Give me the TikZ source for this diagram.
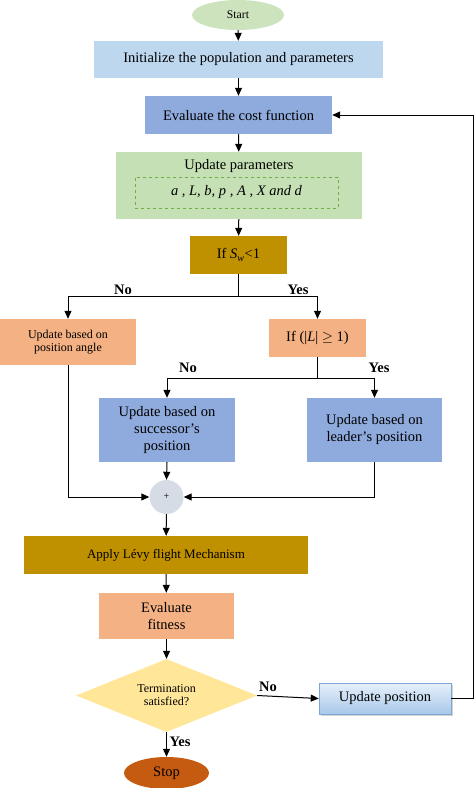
\documentclass[tikz,border=0pt]{standalone}
\usepackage{fontspec}
\setmainfont{Liberation Serif}
\usetikzlibrary{arrows.meta,shapes.geometric,shadows}
\definecolor{cStart}{HTML}{CDE3BE}
\definecolor{cInit}{HTML}{BDD7EE}
\definecolor{cBlue}{HTML}{8FAADC}
\definecolor{cGreen}{HTML}{C5E0B4}
\definecolor{cDash}{HTML}{70AD47}
\definecolor{cGold}{HTML}{BF9000}
\definecolor{cSalmon}{HTML}{F4B183}
\definecolor{cPlus}{HTML}{D6DCE5}
\definecolor{cDiam}{HTML}{FFE699}
\definecolor{cStop}{HTML}{C55A11}
\definecolor{cUpTop}{HTML}{E6F0FA}
\definecolor{cUpBot}{HTML}{A8C8EA}
\definecolor{cUpLine}{HTML}{7FA6D0}
\begin{document}
\begin{tikzpicture}[x=1pt,y=-1pt,
  box/.style={rectangle,inner sep=0pt,align=center,font=\fontsize{14.5}{17}\selectfont},
  conn/.style={line width=1pt,draw=black},
  arr/.style={conn,-{Triangle[length=8pt,width=7pt]}},
  lbl/.style={font=\fontsize{14.5}{17}\selectfont\bfseries,inner sep=0pt}]
\useasboundingbox (0,0) rectangle (474,788);
\node[ellipse,fill=cStart,minimum width=92pt,minimum height=30pt,inner sep=0pt,font=\fontsize{11.7}{13}\selectfont] (start) at (238,15) {Start};
\node[box,fill=cInit,minimum width=289pt,minimum height=37pt] (init) at (238.5,59.5) {Initialize the population and parameters};
\node[box,fill=cBlue,minimum width=187pt,minimum height=38pt] (eval) at (238.5,115) {Evaluate the cost function};
\node[box,fill=cGreen,minimum width=246pt,minimum height=67pt] (params) at (239,185.5) {};
\node[box] (ptitle) at (239,166) {Update parameters};
\node[box,draw=cDash,dashed,line width=0.8pt,minimum width=203pt,minimum height=31pt] (plist) at (236.5,192.5) {\textit{a , L, b, p , A , X and d}};
\node[box,fill=cGold,minimum width=97pt,minimum height=38pt] (sw) at (238.5,255) {If \textit{S}\textsubscript{\textit{w}}<1};
\node[box,fill=cSalmon,minimum width=136pt,minimum height=46pt,font=\fontsize{12}{13}\selectfont] (pa) at (68,342) {Update based on\\position angle};
\node[box,fill=cSalmon,minimum width=97pt,minimum height=38pt] (ifl) at (317.5,338) {If (|\textit{L}| $\geq$ 1)};
\node[box,fill=cBlue,minimum width=136pt,minimum height=64pt] (succ) at (167,430) {Update based on\\successor’s\\position};
\node[box,fill=cBlue,minimum width=135pt,minimum height=64pt] (lead) at (374.5,430) {Update based on\\leader’s position};
\node[circle,fill=cPlus,minimum size=34pt,inner sep=0pt,font=\fontsize{10}{12}\selectfont] (plus) at (166.5,497) {+};
\node[box,fill=cGold,minimum width=284pt,minimum height=38pt,font=\fontsize{13}{15}\selectfont] (levy) at (166,555) {Apply Lévy flight Mechanism};
\node[box,fill=cSalmon,minimum width=135pt,minimum height=46pt,font=\fontsize{14.5}{16.5}\selectfont] (fit) at (166.5,616) {Evaluate\\fitness};
\node[diamond,fill=cDiam,minimum width=181pt,minimum height=73pt,inner sep=0pt,aspect=2.48,align=center,font=\fontsize{12}{13}\selectfont] (term) at (166.5,695.5) {Termination\\satisfied?};
\node[box,top color=cUpTop,bottom color=cUpBot,draw=cUpLine,line width=0.6pt,minimum width=132pt,minimum height=31pt,drop shadow={opacity=0.35,shadow xshift=1.5pt,shadow yshift=-1.5pt}] (upos) at (385,698.5) {Update position};
\node[ellipse,fill=cStop,minimum width=85pt,minimum height=32pt,inner sep=0pt,font=\fontsize{14.5}{16}\selectfont] (stop) at (166.5,773) {Stop};
% connectors
\draw[arr] (start) -- (init);
\draw[arr] (init) -- (eval);
\draw[arr] (eval) -- (params);
\draw[arr] (params) -- (sw);
\coordinate (j1) at (238.5,296);
\draw[conn] (sw.south) -- (j1);
\draw[arr] (j1) -| (pa.north);
\draw[arr] (j1) -| (ifl.north);
\coordinate (j2) at (317.5,378);
\draw[conn] (ifl.south) -- (j2);
\draw[arr] (j2) -| (succ.north);
\draw[arr] (j2) -| (lead.north);
\draw[arr] (succ.south) -- (plus.north);
\draw[arr] (pa.south) |- (plus.west);
\draw[arr] (lead.south) |- (plus.east);
\draw[arr] (plus) -- (levy);
\draw[arr] (levy) -- (fit);
\draw[arr] (fit) -- (term);
\draw[arr] (term.east) -- (upos.west);
\draw[arr] (term.south) -- (stop.north);
\coordinate (fb) at (473,698.5);
\draw[arr] (upos.east) -- (fb) |- (eval.east);
% labels
\node[lbl] (l1) at (123,290) {No};
\node[lbl] (l2) at (298,290) {Yes};
\node[lbl] (l3) at (188,368) {No};
\node[lbl] (l4) at (379,368) {Yes};
\node[lbl] (l5) at (268,687) {No};
\node[lbl] (l6) at (180,742) {Yes};
\end{tikzpicture}
\end{document}
